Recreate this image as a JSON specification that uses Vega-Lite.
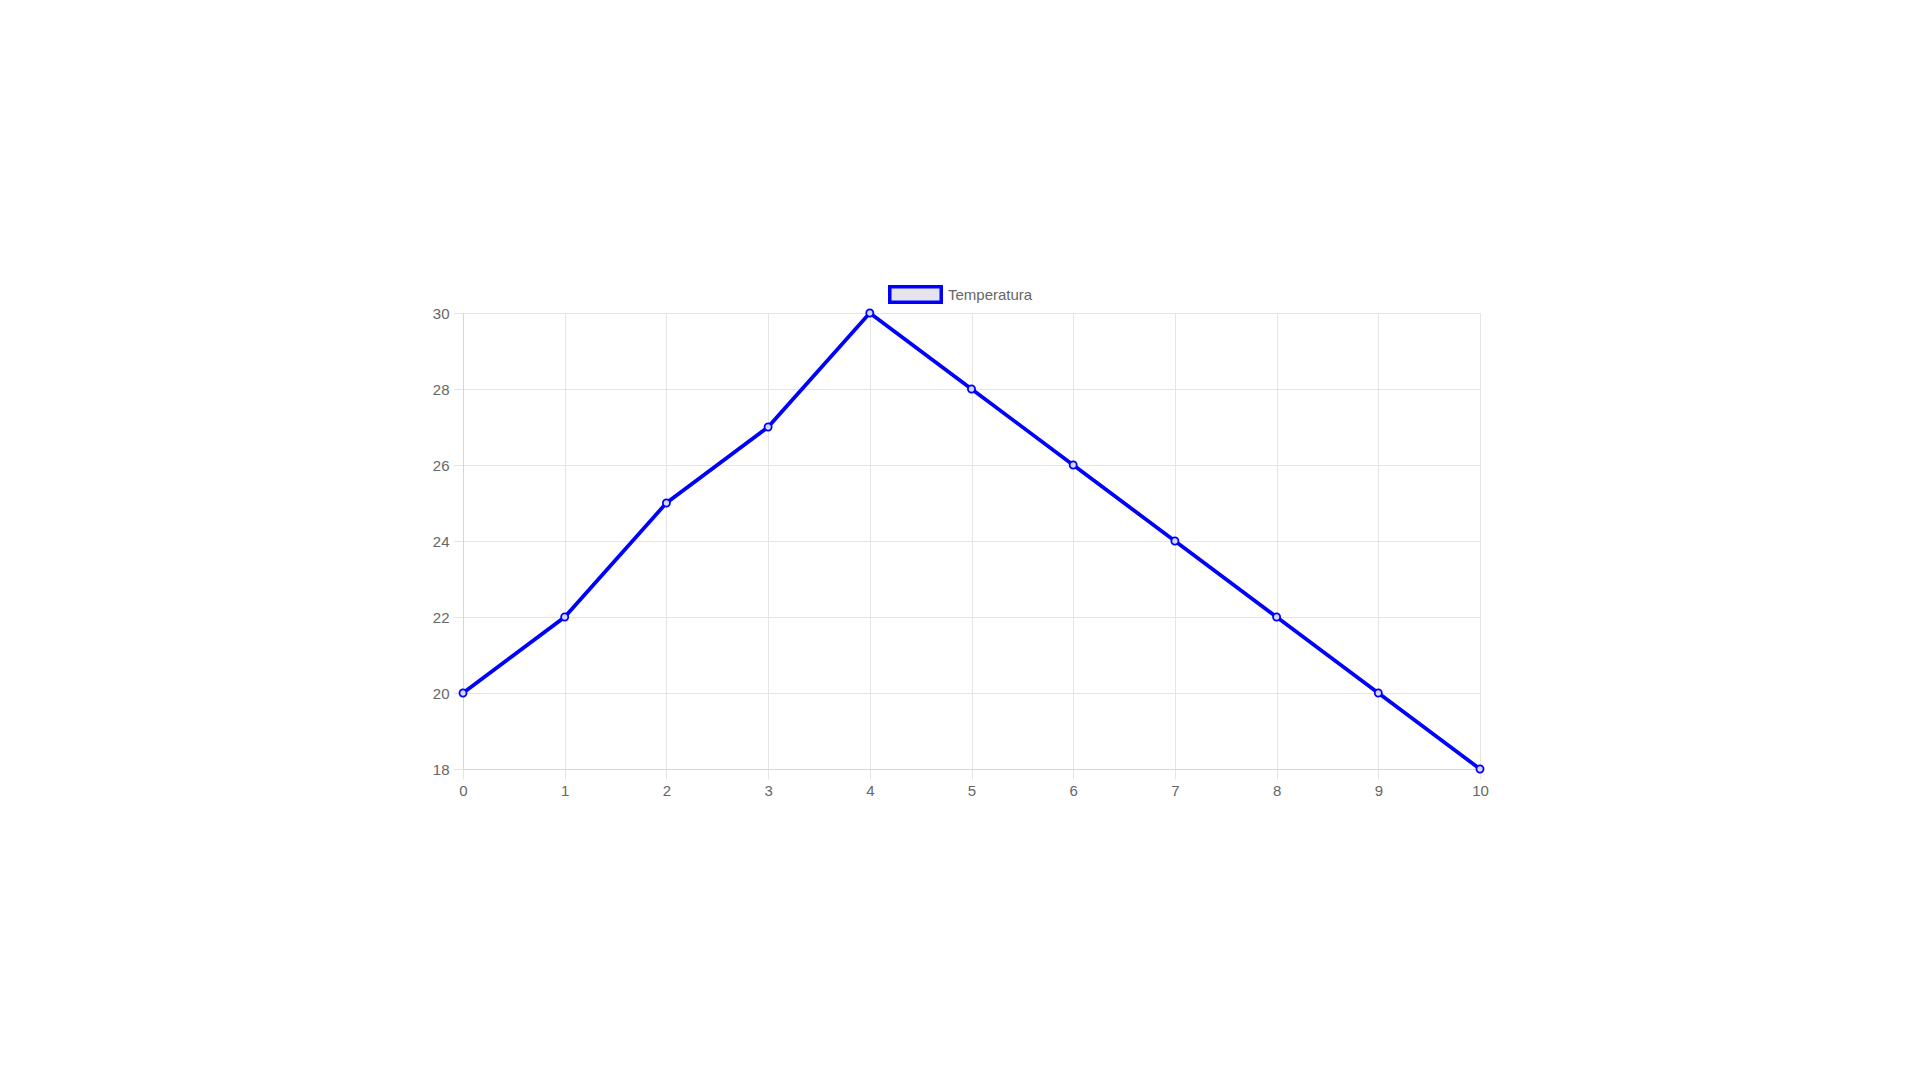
{
  "$schema": "https://vega.github.io/schema/vega-lite/v6.json",
  "width": 1017,
  "height": 456,
  "autosize": "none",
  "padding": {"left": 463, "top": 313, "right": 440, "bottom": 311},
  "background": "white",
  "data": {
    "values": [
      {"x": 0, "temp": 20, "serie": "Temperatura"},
      {"x": 1, "temp": 22, "serie": "Temperatura"},
      {"x": 2, "temp": 25, "serie": "Temperatura"},
      {"x": 3, "temp": 27, "serie": "Temperatura"},
      {"x": 4, "temp": 30, "serie": "Temperatura"},
      {"x": 5, "temp": 28, "serie": "Temperatura"},
      {"x": 6, "temp": 26, "serie": "Temperatura"},
      {"x": 7, "temp": 24, "serie": "Temperatura"},
      {"x": 8, "temp": 22, "serie": "Temperatura"},
      {"x": 9, "temp": 20, "serie": "Temperatura"},
      {"x": 10, "temp": 18, "serie": "Temperatura"}
    ]
  },
  "encoding": {
    "x": {
      "field": "x",
      "type": "quantitative",
      "scale": {"domain": [0, 10], "nice": false, "zero": false},
      "axis": {"title": null, "values": [0, 1, 2, 3, 4, 5, 6, 7, 8, 9, 10], "labelPadding": 4, "labelFlush": false}
    },
    "y": {
      "field": "temp",
      "type": "quantitative",
      "scale": {"domain": [18, 30], "nice": false, "zero": false},
      "axis": {"title": null, "values": [18, 20, 22, 24, 26, 28, 30], "labelPadding": 4, "labelFlush": false}
    }
  },
  "layer": [
    {
      "mark": {"type": "line", "strokeWidth": 3.75, "color": "#0000ff"},
      "encoding": {
        "color": {
          "field": "serie",
          "type": "nominal",
          "scale": {"range": ["#0000ff"]},
          "legend": {
            "title": null,
            "orient": "none",
            "legendX": 425,
            "legendY": -46,
            "symbolType": "M-1,-0.3H1V0.3H-1Z",
            "symbolSize": 2650,
            "symbolStrokeWidth": 3.5,
            "labelFontSize": 15,
            "labelColor": "#666666",
            "labelOffset": 5,
            "encode": {
              "symbols": {
                "update": {
                  "fill": {"value": "#e4e4ea"},
                  "stroke": {"value": "#0000ff"},
                  "strokeWidth": {"value": 3.5},
                  "opacity": {"value": 1}
                }
              }
            }
          }
        }
      }
    },
    {
      "mark": {"type": "point", "shape": "circle", "size": 50, "filled": true, "stroke": "#0000ff", "fill": "#d6d6fa", "fillOpacity": 1, "strokeWidth": 1.8, "opacity": 1}
    }
  ],
  "config": {
    "font": "Liberation Sans",
    "view": {"stroke": "#e5e5e5", "strokeWidth": 1},
    "axis": {
      "gridColor": "#e5e5e5",
      "gridWidth": 1,
      "domainColor": "#d6d6d6",
      "tickColor": "#e5e5e5",
      "tickSize": 10,
      "labelFontSize": 15,
      "labelColor": "#666666",
      "labelFont": "Liberation Sans"
    }
  }
}
